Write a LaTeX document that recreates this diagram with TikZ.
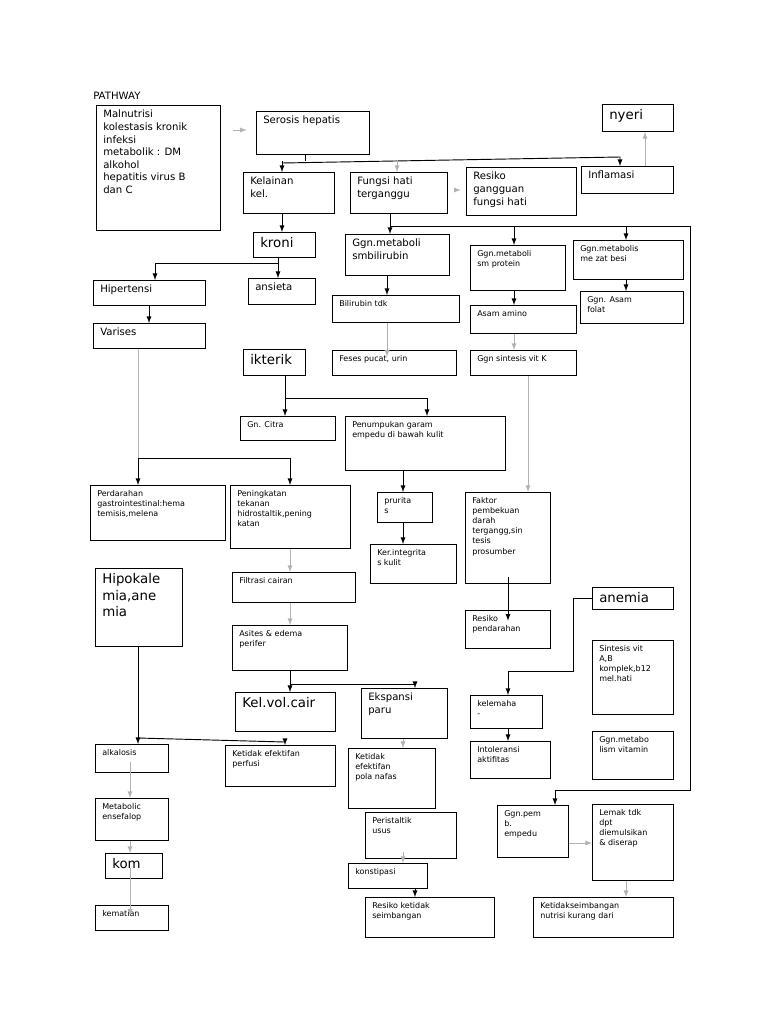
\documentclass[tikz,border=0pt]{standalone}
\usepackage{fontspec}
\setmainfont{DejaVu Sans}
\usetikzlibrary{calc}
\tikzset{
  box/.style={draw, line width=0.8pt, anchor=north west, inner sep=0pt},
  arr/.style={->, >=latex, line width=0.7pt},
  garr/.style={->, >=latex, line width=0.7pt, draw=black!30},
  ln/.style={line width=0.7pt},
  gln/.style={line width=0.7pt, draw=black!30}
}
\newcommand\bx[7]{%
  \node [box, minimum width={(#4-#2)*0.75pt}, minimum height={(#5-#3)*0.75pt}] (#1) at (#2,#3) {};
  \node [anchor=north west, align=left, inner sep=0pt, font=#6] at ([shift={(7,5)}]#1.north west) {#7};}
\newcommand\sm{\fontsize{6}{7.6}\selectfont}
\newcommand\md{\fontsize{7.6}{9.4}\selectfont}
\newcommand\bg{\fontsize{10}{12.5}\selectfont}
\begin{document}
\begin{tikzpicture}[x=0.75pt, y=-0.75pt]
\useasboundingbox (0,0) rectangle (768,1024);
\node [anchor=south west, inner sep=0pt, font=\md] (title) at (93,100) {PATHWAY};

% top row
\bx{mal}{96}{105}{220}{230}{\md}{Malnutrisi\\kolestasis kronik\\infeksi\\metabolik : DM\\alkohol\\hepatitis virus B\\dan C}
\bx{ser}{256}{111}{369}{154}{\md}{Serosis hepatis}
\bx{nyeri}{602}{104}{673}{131}{\bg}{nyeri}
\bx{infl}{581}{166}{673}{193}{\md}{Inflamasi}
\bx{kel}{243}{172}{334}{213}{\md}{Kelainan\\kel.}
\bx{fung}{350}{172}{447}{213}{\md}{Fungsi hati\\terganggu}
\bx{res}{466}{167}{576}{215}{\md}{Resiko\\gangguan\\fungsi hati}
\bx{kroni}{253}{232}{315}{257}{\bg}{kroni}
\bx{bil}{345}{234}{449}{275}{\md}{Ggn.metaboli\\smbilirubin}
\bx{prot}{470}{245}{565}{290}{\sm}{Ggn.metaboli\\sm protein}
\bx{besi}{573}{240}{683}{279}{\sm}{Ggn.metabolis\\me zat besi}
\bx{hip}{93}{280}{205}{305}{\md}{Hipertensi}
\bx{ans}{248}{278}{315}{304}{\md}{ansieta}
\bx{bilt}{332}{295}{459}{322}{\sm}{Bilirubin tdk}
\bx{folat}{580}{291}{683}{323}{\sm}{Ggn. Asam\\folat}
\bx{amino}{470}{305}{576}{333}{\sm}{Asam amino}
\bx{var}{93}{323}{205}{348}{\md}{Varises}
\bx{ikt}{243}{349}{305}{375}{\bg}{ikterik}
\bx{feses}{332}{350}{456}{375}{\sm}{Feses pucat, urin}
\bx{vitk}{470}{350}{576}{375}{\sm}{Ggn sintesis vit K}

% middle
\bx{citra}{240}{416}{335}{440}{\sm}{Gn. Citra}
\bx{penum}{345}{416}{505}{470}{\sm}{Penumpukan garam\\empedu di bawah kulit}
\bx{perd}{90}{485}{225}{540}{\sm}{Perdarahan\\gastrointestinal:hema\\temisis,melena}
\bx{pen}{230}{485}{350}{548}{\sm}{Peningkatan\\tekanan\\hidrostaltik,pening\\katan}
\bx{prur}{377}{492}{432}{522}{\sm}{prurita\\s}
\bx{ker}{370}{544}{456}{583}{\sm}{Ker.integrita\\s kulit}
\bx{fakt}{465}{492}{550}{583}{\sm}{Faktor\\pembekuan\\darah\\tergangg,sin\\tesis\\prosumber}
\bx{rpend}{465}{610}{550}{648}{\sm}{Resiko\\pendarahan}
\bx{anem}{592}{587}{673}{609}{\bg}{anemia}
\bx{hipo}{95}{568}{182}{646}{\bg}{Hipokale\\mia,ane\\mia}
\bx{filt}{232}{572}{355}{602}{\sm}{Filtrasi cairan}
\bx{asit}{232}{625}{347}{670}{\sm}{Asites \& edema\\perifer}
\bx{sint}{592}{640}{673}{714}{\sm}{Sintesis vit\\A,B\\komplek,b12\\mel.hati}

% bottom
\bx{kvol}{235}{692}{335}{731}{\bg}{Kel.vol.cair}
\bx{eksp}{361}{688}{447}{738}{\md}{Ekspansi\\paru}
\bx{lemah}{470}{695}{542}{728}{\sm}{kelemaha\\-}
\bx{vit}{592}{731}{673}{779}{\sm}{Ggn.metabo\\lism vitamin}
\bx{alk}{95}{744}{168}{772}{\sm}{alkalosis}
\bx{perf}{225}{745}{335}{786}{\sm}{Ketidak efektifan\\perfusi}
\bx{nafas}{348}{748}{435}{808}{\sm}{Ketidak\\efektifan\\pola nafas}
\bx{intol}{470}{741}{550}{778}{\sm}{Intoleransi\\aktifitas}
\bx{meta}{95}{798}{168}{840}{\sm}{Metabolic\\ensefalop}
\bx{peri}{365}{812}{456}{858}{\sm}{Peristaltik\\usus}
\bx{pemb}{497}{805}{568}{857}{\sm}{Ggn.pem\\b.\\empedu}
\bx{lemak}{592}{804}{673}{880}{\sm}{Lemak tdk\\dpt\\diemulsikan\\\& diserap}
\bx{kom}{105}{853}{162}{878}{\bg}{kom}
\bx{kons}{348}{863}{427}{888}{\sm}{konstipasi}
\bx{mati}{95}{905}{168}{930}{\sm}{kematian}
\bx{relek}{365}{897}{494}{937}{\sm}{Resiko ketidak\\seimbangan}
\bx{nutr}{533}{897}{673}{937}{\sm}{Ketidakseimbangan\\nutrisi kurang dari}

% junctions
\coordinate (m1) at (233,130);
\coordinate (s1) at (305,161);
\coordinate (f1) at (390,226);
\coordinate (f2) at (690,226);
\coordinate (f3) at (690,790);
\coordinate (k1) at (278,263);
\coordinate (v1) at (138,458);
\coordinate (i1) at (285,398);
\coordinate (a1) at (290,684);
\coordinate (an1) at (573,671);
\coordinate (h1) at (138,738);

% connectors
\draw [garr] (m1) -- ([xshift=-7]ser.west |- m1);
\draw [ln] (ser.south -| s1) -- (s1);
\draw [arr] (282,163) -- (620,157) -- (infl.north -| 620,0);
\draw [arr] (s1 -| 282,0) -- (kel.north -| 282,0);
\draw [garr] (397,160) -- (fung.north -| 397,0);
\draw [gln, ->, >=latex] (645,166) -- (nyeri.south -| 645,0);
\draw [garr] ([xshift=5]fung.east |- 0,190) -- ([xshift=-4]res.west |- 0,190);
\draw [arr] (fung.south -| f1) -- (f1) -- (f2) -- (f3) -- (f3 -| 555,0) -- (pemb.north -| 555,0);
\draw [arr] (f1) -- (bil.north -| f1);
\draw [arr] (f1 -| 514,0) -- (prot.north -| 514,0);
\draw [arr] (f1 -| 626,0) -- (besi.north -| 626,0);
\draw [arr] (kel.south -| 282,0) -- (kroni.north -| 282,0);
\draw [ln] (kroni.south -| k1) -- (k1);
\draw [arr] (k1) -- (ans.north -| k1);
\draw [arr] (k1) -- (k1 -| 155,0) -- (hip.north -| 155,0);
\draw [arr] (hip.south -| 149,0) -- (var.north -| 149,0);
\draw [gln] (var.south -| v1) -- (v1);
\draw [arr] (v1) -- (perd.north -| v1);
\draw [arr] (v1) -- (v1 -| 290,0) -- (pen.north -| 290,0);
\draw [arr] (bil.south -| 387,0) -- (bilt.north -| 387,0);
\draw [garr] (bilt.south -| 387,0) -- ([yshift=-5]feses.north -| 387,0);
\draw [arr] (prot.south -| 514,0) -- (amino.north -| 514,0);
\draw [garr] (amino.south -| 514,0) -- (vitk.north -| 514,0);
\draw [garr] (vitk.south -| 528,0) -- (fakt.north -| 528,0);
\draw [arr] (besi.south -| 626,0) -- (folat.north -| 626,0);
\draw [ln] (ikt.south -| i1) -- (i1);
\draw [arr] (i1) -- (citra.north -| i1);
\draw [arr] (i1) -- (i1 -| 427,0) -- (penum.north -| 427,0);
\draw [arr] (penum.south -| 403,0) -- (prur.north -| 403,0);
\draw [arr] (prur.south -| 403,0) -- (ker.north -| 403,0);
\draw [arr] ([yshift=5]fakt.south -| 508,0) -- ([yshift=-8]rpend.north -| 508,0);
\draw [garr] (pen.south -| 290,0) -- (filt.north -| 290,0);
\draw [garr] (filt.south -| 290,0) -- (asit.north -| 290,0);
\draw [ln] (asit.south -| a1) -- (a1);
\draw [arr] (a1) -- (kvol.north -| a1);
\draw [arr] (a1) -- (a1 -| 415,0) -- (eksp.north -| 415,0);
\draw [arr] (anem.west) -- (anem.west -| an1) -- (an1) -- (an1 -| 508,0) -- (lemah.north -| 508,0);
\draw [arr] (lemah.south -| 508,0) -- (intol.north -| 508,0);
\draw [arr] (hipo.south -| h1) -- (alk.north -| h1);
\draw [arr] (h1) -- (285,742) -- (perf.north -| 285,0);
\draw [garr] (eksp.south -| 403,0) -- (nafas.north -| 403,0);
\draw [garr] ([yshift=8]alk.south -| 130,0) -- (meta.north -| 130,0);
\draw [garr] (meta.south -| 130,0) -- (kom.north -| 130,0);
\draw [garr] ([yshift=8]kom.south -| 130,0) -- ([yshift=-8]mati.north -| 130,0);
\draw [garr] ([yshift=5]peri.south -| 403,0) -- (kons.north -| 403,0);
\draw [arr] (kons.south -| 415,0) -- (relek.north -| 415,0);
\draw [garr] (pemb.east |- 0,843) -- (lemak.west |- 0,843);
\draw [garr] (lemak.south -| 626,0) -- (nutr.north -| 626,0);
\end{tikzpicture}
\end{document}
